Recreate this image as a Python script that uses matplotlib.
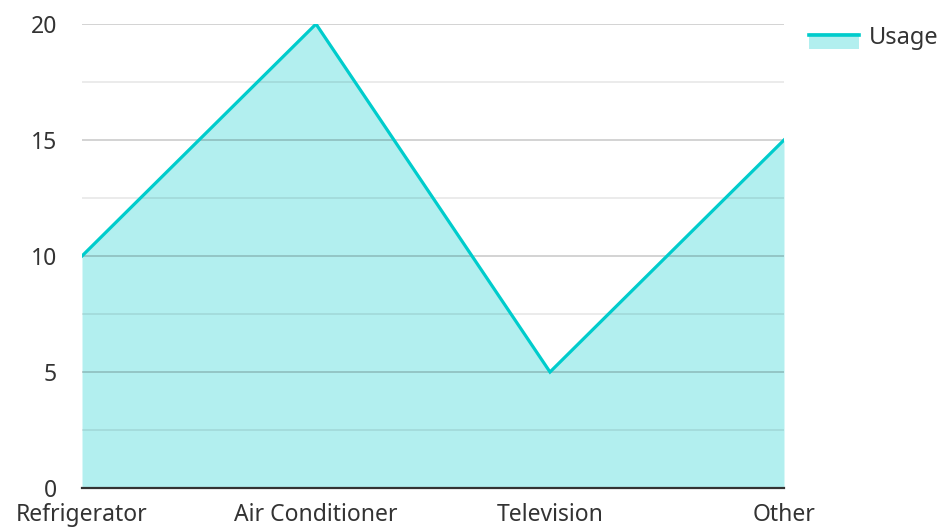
import matplotlib
matplotlib.use("Agg")
import matplotlib.pyplot as plt
from matplotlib.patches import Rectangle
from matplotlib.lines import Line2D
from matplotlib.legend_handler import HandlerBase
from matplotlib.ticker import MultipleLocator

categories = ["Refrigerator", "Air Conditioner", "Television", "Other"]
usage = [10, 20, 5, 15]
series_name = "Usage"

plt.rcParams['font.family'] = ['Noto Sans', 'DejaVu Sans']

color = "#00cccc"
fs = 16.5
fig = plt.figure(figsize=(9.44, 5.31), dpi=100)
ax = fig.add_axes([82/944, 43/531, (784-82)/944, (488-24)/531])

x = list(range(len(categories)))
ax.fill_between(x, usage, 0, color=color, alpha=0.3, linewidth=0, zorder=1)
ax.plot(x, usage, color=color, linewidth=2.3, zorder=4, solid_joinstyle='miter')

ax.set_xlim(0, len(categories) - 1)
ax.set_ylim(0, 20)
ax.yaxis.set_major_locator(MultipleLocator(5))
ax.yaxis.set_minor_locator(MultipleLocator(2.5))
ax.set_xticks(x)
ax.set_xticklabels(categories)

ax.grid(axis='y', which='major', color='black', alpha=0.22, linewidth=1.1, zorder=2)
ax.grid(axis='y', which='minor', color='black', alpha=0.1, linewidth=1.1, zorder=2)
ax.set_axisbelow(False)

for s in ['top', 'right', 'left']:
    ax.spines[s].set_visible(False)
ax.spines['bottom'].set_color('#333333')
ax.spines['bottom'].set_linewidth(1.6)
ax.spines['bottom'].set_zorder(5)

ax.tick_params(axis='both', which='both', length=0, labelsize=fs, labelcolor='#333333')
ax.tick_params(axis='y', pad=18)
ax.tick_params(axis='x', pad=11)


class AreaHandler(HandlerBase):
    def create_artists(self, legend, orig_handle, xdescent, ydescent,
                       width, height, fontsize, trans):
        y0 = -ydescent - 3.6
        p = Rectangle((-xdescent, y0), width, height,
                      facecolor=color, alpha=0.3, edgecolor='none', transform=trans)
        l = Line2D([-xdescent, -xdescent + width], [y0 + height - 1.2] * 2,
                   color=color, linewidth=2.6, transform=trans)
        return [p, l]


proxy = Rectangle((0, 0), 1, 1)
leg = fig.legend([proxy], [series_name], loc='upper left',
                 bbox_to_anchor=(809/944, 1 - 26/531), frameon=False,
                 fontsize=17, handlelength=2.1, handleheight=0.64,
                 handletextpad=0.45, borderpad=0, borderaxespad=0,
                 handler_map={Rectangle: AreaHandler()})
for t in leg.get_texts():
    t.set_color('#333333')

fig.savefig("out.png", dpi=100)
